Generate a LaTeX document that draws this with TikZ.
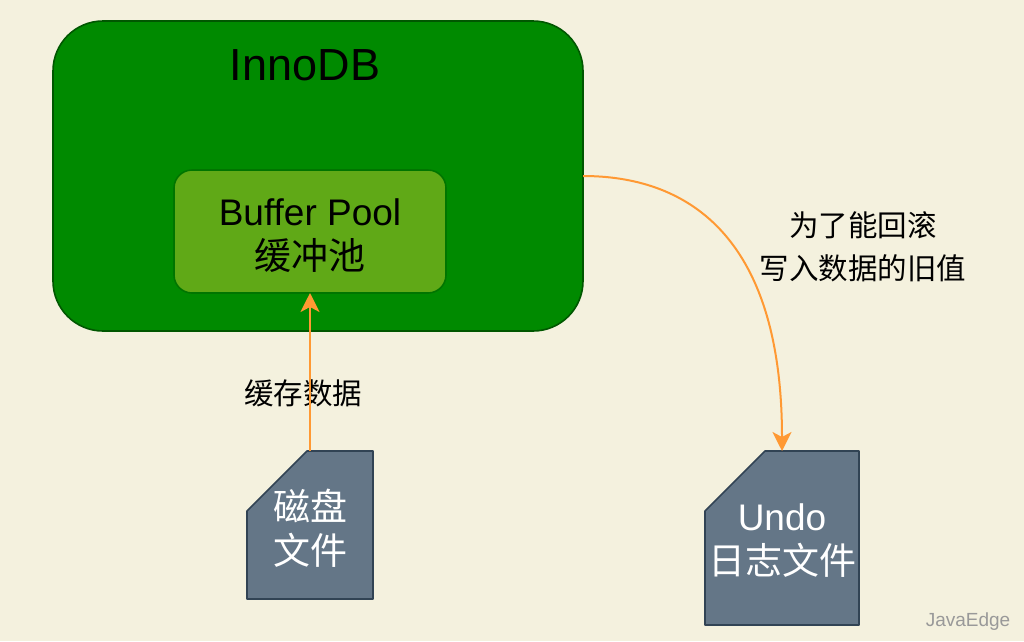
\documentclass[tikz,border=0pt]{standalone}
\usepackage{fontspec}
\setmainfont{Liberation Sans}
\newfontfamily\cjk{Noto Sans CJK SC}
\usetikzlibrary{positioning,arrows.meta}
\definecolor{paper}{HTML}{F4F1DE}
\definecolor{flow}{HTML}{FF9933}
\definecolor{poolgreen}{HTML}{60A917}
\definecolor{slate}{HTML}{647687}
\definecolor{slateline}{HTML}{314354}

\begin{document}
\begin{tikzpicture}[
		x=1pt, y=-1pt,
		enginenode/.style={rectangle, rounded corners=50pt, draw=green!34!black, fill=green!54!black, line width=1.6pt, minimum width=530pt, minimum height=310pt, inner sep=0pt, outer sep=0pt},
		poolnode/.style={rectangle, rounded corners=18pt, draw=green!46!black, fill=poolgreen, line width=1.6pt, minimum width=272pt, minimum height=123pt, inner sep=0pt, outer sep=0pt},
		filenode/.style={rectangle, inner sep=0pt, outer sep=0pt},
		filecard/.style={draw=slateline, fill=slate, line width=1.6pt, line join=round},
		bigtext/.style={align=center, inner sep=0pt, font=\fontsize{37}{44}\selectfont},
		notenode/.style={align=center, inner sep=0pt, font=\fontsize{29.5}{43}\selectfont},
		flowline/.style={-{Stealth[length=19pt, width=19pt, inset=5pt]}, draw=flow, line width=2pt},
	]

	\useasboundingbox (0,0) rectangle (1024,641);
	\fill[paper] (0,0) rectangle (1024,641);

	%Nodes
	\node[enginenode] (innodb) at (318,176) {};
	\node[font=\fontsize{45}{50}\selectfont, inner sep=0pt] (innodbname) at (305,65) {InnoDB};
	\node[poolnode] (bufferpool) at (310,231.5) {};
	\node[bigtext] (pooltext) at (310,236) {Buffer Pool\\{\cjk 缓冲池}};

	\node[filenode, minimum width=126pt, minimum height=148pt] (diskfile) at (310,525) {};
	\filldraw[filecard] (diskfile.north east) -- (diskfile.south east) -- (diskfile.south west)
		-- ([yshift=-60pt]diskfile.north west) -- ([xshift=60pt]diskfile.north west) -- cycle;
	\node[bigtext, text=white] (disktext) at (310,528) {{\cjk 磁盘}\\{\cjk 文件}};

	\node[filenode, minimum width=154pt, minimum height=174pt] (undofile) at (782,538) {};
	\filldraw[filecard] (undofile.north east) -- (undofile.south east) -- (undofile.south west)
		-- ([yshift=-60pt]undofile.north west) -- ([xshift=60pt]undofile.north west) -- cycle;
	\node[bigtext, text=white] (undotext) at (782,541) {Undo\\{\cjk 日志文件}};

	%Labels
	\node[notenode] (cachenote) at (303,393) {\cjk 缓存数据};
	\node[notenode] (rollbacknote) at (863,247) {\cjk 为了能回滚\\\cjk 写入数据的旧值};
	\node[text=black!40, inner sep=0pt, font=\fontsize{19}{22}\selectfont] (mark) at (968,622) {JavaEdge};

	%Lines
	\draw[flowline] (diskfile.north) -- (bufferpool.south);
	\draw[flowline] (innodb.east) .. controls +(100,0) and +(0,-220) .. (undofile.north);

\end{tikzpicture}
\end{document}
